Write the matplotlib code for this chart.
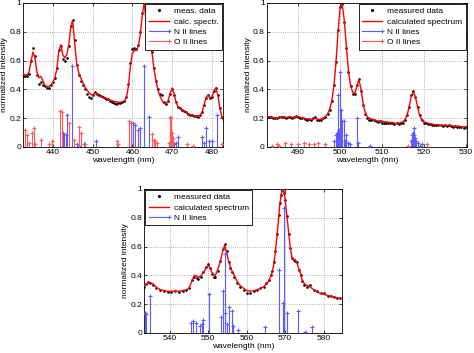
import numpy as np
import matplotlib
matplotlib.use('Agg')
import matplotlib.pyplot as plt
from matplotlib.lines import Line2D
from matplotlib.legend_handler import HandlerLine2D

plt.rcParams['font.family'] = ['Liberation Sans', 'DejaVu Sans']

# ---------------- panel 1 : 432.5 - 483 nm (0.5 nm steps) ----------------
wl1 = np.arange(432.5, 483.01, 0.5)
calc1 = [0.51, 0.50, 0.50, 0.52, 0.59, 0.66, 0.62, 0.52, 0.48, 0.49,
         0.46, 0.43, 0.42, 0.42, 0.43, 0.45, 0.48, 0.54, 0.66, 0.71,
         0.64, 0.62, 0.64, 0.71, 0.83, 0.88, 0.72, 0.58, 0.52, 0.48,
         0.45, 0.42, 0.40, 0.38, 0.365, 0.36, 0.375, 0.365, 0.355, 0.35,
         0.345, 0.34, 0.335, 0.33, 0.325, 0.32, 0.315, 0.315, 0.31, 0.31,
         0.315, 0.32, 0.34, 0.42, 0.56, 0.65, 0.67, 0.67, 0.70, 0.78,
         0.92, 1.00, 0.86, 0.80, 0.74, 0.64, 0.53, 0.45, 0.39, 0.35,
         0.32, 0.30, 0.30, 0.32, 0.37, 0.41, 0.37, 0.31, 0.28, 0.27,
         0.26, 0.25, 0.24, 0.23, 0.225, 0.22, 0.215, 0.215, 0.215, 0.22,
         0.24, 0.29, 0.34, 0.36, 0.34, 0.35, 0.39, 0.41, 0.36, 0.27,
         0.21, 0.18]
meas1 = [0.49, 0.49, 0.49, 0.51, 0.60, 0.69, 0.63, 0.50, 0.44, 0.45,
         0.43, 0.42, 0.41, 0.41, 0.43, 0.45, 0.48, 0.55, 0.67, 0.70,
         0.61, 0.60, 0.62, 0.70, 0.84, 0.88, 0.74, 0.57, 0.50, 0.46,
         0.43, 0.40, 0.37, 0.35, 0.34, 0.36, 0.385, 0.37, 0.36, 0.355,
         0.345, 0.34, 0.335, 0.33, 0.32, 0.31, 0.305, 0.30, 0.305, 0.305,
         0.31, 0.32, 0.35, 0.44, 0.58, 0.68, 0.69, 0.68, 0.71, 0.80,
         0.93, 0.99, 0.88, 0.82, 0.76, 0.66, 0.55, 0.46, 0.40, 0.37,
         0.36, 0.31, 0.30, 0.32, 0.37, 0.40, 0.36, 0.31, 0.28, 0.27,
         0.26, 0.25, 0.24, 0.23, 0.225, 0.22, 0.215, 0.215, 0.21, 0.22,
         0.24, 0.29, 0.34, 0.36, 0.34, 0.35, 0.39, 0.41, 0.36, 0.27,
         0.21, 0.18]
n2_pos1 = [442.5, 442.9, 443.2, 443.6, 444.8, 446.1, 446.5, 447.9, 450.9,
           460.2, 460.75, 461.3, 462.0, 463.0, 464.3, 470.4, 471.0, 471.6,
           477.5, 478.1, 478.5, 479.4, 480.1, 481.2]
n2_int1 = [0.10, 0.085, 0.08, 0.22, 0.565, 0.02, 0.01, 0.02, 0.04,
           0.17, 0.155, 0.12, 0.13, 0.565, 0.205, 0.02, 0.03, 0.07,
           0.07, 0.03, 0.13, 0.04, 0.04, 0.22]
o2_pos1 = [433.1, 433.5, 434.0, 434.8, 435.2, 435.5, 437.1, 439.0, 439.8,
           441.7, 442.2, 444.1, 445.4, 446.7, 447.0, 448.2, 456.1, 456.5,
           459.1, 459.7, 464.9, 465.4, 465.8, 466.2, 469.1, 469.5, 469.8,
           470.0, 470.3, 473.7, 475.2, 482.5]
o2_int1 = [0.12, 0.08, 0.03, 0.10, 0.13, 0.02, 0.05, 0.02, 0.04,
           0.25, 0.24, 0.17, 0.05, 0.14, 0.10, 0.02, 0.04, 0.02,
           0.18, 0.17, 0.09, 0.05, 0.04, 0.03, 0.03, 0.21, 0.20,
           0.10, 0.06, 0.02, 0.01, 0.02]

# ---------------- panel 2 : 482.5 - 530.5 nm ----------------
wl2 = np.arange(482.5, 530.51, 0.5)
calc2 = [0.21, 0.21, 0.205, 0.205, 0.20, 0.20, 0.205, 0.21, 0.21, 0.205,
         0.205, 0.21, 0.205, 0.205, 0.21, 0.21, 0.205, 0.20, 0.20, 0.195,
         0.195, 0.19, 0.195, 0.20, 0.195, 0.19, 0.195, 0.20, 0.21, 0.23,
         0.26, 0.32, 0.42, 0.58, 0.80, 0.96, 0.99, 0.88, 0.70, 0.53,
         0.43, 0.38, 0.37, 0.42, 0.47, 0.40, 0.30, 0.24, 0.21, 0.20,
         0.195, 0.19, 0.185, 0.18, 0.18, 0.18, 0.175, 0.175, 0.17, 0.17,
         0.17, 0.165, 0.165, 0.165, 0.17, 0.175, 0.19, 0.22, 0.28, 0.35,
         0.38, 0.35, 0.28, 0.22, 0.19, 0.175, 0.17, 0.165, 0.16, 0.16,
         0.155, 0.155, 0.155, 0.15, 0.15, 0.15, 0.15, 0.15, 0.15, 0.145,
         0.145, 0.145, 0.145, 0.14, 0.14, 0.14, 0.14]
meas2 = [0.21, 0.205, 0.205, 0.20, 0.20, 0.20, 0.21, 0.205, 0.21, 0.20,
         0.21, 0.205, 0.20, 0.21, 0.215, 0.21, 0.20, 0.20, 0.195, 0.19,
         0.195, 0.19, 0.20, 0.205, 0.19, 0.185, 0.19, 0.20, 0.21, 0.23,
         0.26, 0.32, 0.43, 0.59, 0.81, 0.97, 0.99, 0.87, 0.69, 0.52,
         0.42, 0.37, 0.37, 0.43, 0.47, 0.39, 0.29, 0.23, 0.20, 0.19,
         0.19, 0.185, 0.18, 0.175, 0.18, 0.17, 0.17, 0.17, 0.165, 0.165,
         0.17, 0.16, 0.165, 0.16, 0.165, 0.17, 0.19, 0.22, 0.28, 0.36,
         0.39, 0.35, 0.28, 0.22, 0.19, 0.17, 0.165, 0.16, 0.16, 0.155,
         0.155, 0.15, 0.155, 0.15, 0.145, 0.15, 0.145, 0.15, 0.145, 0.14,
         0.145, 0.14, 0.14, 0.14, 0.135, 0.14, 0.14]
n2_pos2 = [498.6, 498.95, 499.2, 499.6, 499.8, 500.0, 500.2, 500.5, 500.9,
           501.1, 501.5, 501.8, 502.3, 504.0, 504.3, 507.1,
           516.9, 517.2, 517.4, 517.6, 517.7, 518.0, 518.2, 518.5, 519.0, 519.6]
n2_int2 = [0.04, 0.08, 0.10, 0.36, 0.12, 0.52, 0.26, 0.18, 0.18,
           0.04, 0.08, 0.03, 0.02, 0.20, 0.03, 0.01,
           0.04, 0.08, 0.10, 0.13, 0.08, 0.06, 0.04, 0.03, 0.01, 0.02]
o2_pos2 = [483.7, 484.9, 485.3, 486.9, 488.3, 490.0, 491.4, 492.6, 493.8,
           494.8, 496.5, 516.2, 520.8]
o2_int2 = [0.01, 0.02, 0.01, 0.03, 0.02, 0.02, 0.03, 0.02, 0.02,
           0.03, 0.02, 0.01, 0.02]

# ---------------- panel 3 : 533.4 - 585 nm ----------------
wl3 = [533.4, 534.0, 534.5, 535.0, 535.8, 536.5, 537.6, 538.5, 539.5, 540.5,
       541.5, 542.5, 543.5, 544.3, 545.0, 545.8, 546.4, 547.0, 547.5, 548.2,
       548.8, 549.5, 550.1, 550.6, 551.0, 551.5, 551.9, 552.5, 553.2, 553.8,
       554.3, 554.8, 555.3, 555.8, 556.2, 556.8, 557.5, 558.3, 559.2, 560.0,
       561.0, 562.0, 562.7, 563.5, 564.4, 565.1, 565.7, 566.2, 566.6, 567.0,
       567.4, 567.9, 568.3, 568.6, 568.9, 569.2, 569.4, 569.7, 570.0, 570.4,
       570.9, 571.3, 571.8, 572.2, 572.6, 573.0, 573.5, 574.0, 574.4, 575.0,
       575.7, 576.5, 577.4, 578.3, 579.2, 580.0, 581.0, 582.0, 582.6, 583.5,
       584.3, 585.0]
calc3 = [0.33, 0.34, 0.35, 0.35, 0.34, 0.32, 0.30, 0.295, 0.29, 0.29,
         0.29, 0.29, 0.295, 0.30, 0.31, 0.36, 0.40, 0.395, 0.385, 0.40,
         0.42, 0.45, 0.47, 0.45, 0.42, 0.405, 0.40, 0.44, 0.50, 0.57,
         0.61, 0.56, 0.50, 0.46, 0.43, 0.40, 0.36, 0.33, 0.31, 0.295,
         0.29, 0.295, 0.30, 0.31, 0.32, 0.34, 0.36, 0.39, 0.42, 0.47,
         0.55, 0.68, 0.80, 0.89, 0.95, 0.99, 1.00, 0.98, 0.93, 0.82,
         0.70, 0.60, 0.52, 0.51, 0.51, 0.49, 0.45, 0.41, 0.37, 0.34,
         0.33, 0.32, 0.30, 0.285, 0.275, 0.27, 0.26, 0.255, 0.25, 0.245,
         0.24, 0.24]
meas3 = [0.32, 0.34, 0.355, 0.35, 0.33, 0.31, 0.295, 0.29, 0.285, 0.285,
         0.29, 0.285, 0.29, 0.30, 0.31, 0.37, 0.39, 0.38, 0.375, 0.39,
         0.42, 0.46, 0.48, 0.45, 0.41, 0.39, 0.39, 0.43, 0.50, 0.58,
         0.62, 0.57, 0.49, 0.45, 0.42, 0.39, 0.35, 0.32, 0.30, 0.28,
         0.28, 0.29, 0.30, 0.31, 0.32, 0.35, 0.37, 0.40, 0.43, 0.49,
         0.57, 0.69, 0.82, 0.90, 0.96, 0.99, 1.00, 0.97, 0.92, 0.81,
         0.69, 0.59, 0.52, 0.51, 0.50, 0.49, 0.44, 0.40, 0.36, 0.33,
         0.32, 0.33, 0.30, 0.29, 0.28, 0.275, 0.26, 0.255, 0.25, 0.245,
         0.24, 0.24]
n2_pos3 = [533.7, 533.9, 535.0, 545.6, 546.0, 546.9, 548.0, 548.3, 548.7,
           550.3, 553.4, 553.9, 554.3, 554.5, 554.9, 555.4, 556.3, 556.5,
           557.7, 564.8, 568.5, 569.4, 569.7, 570.5, 573.2, 575.2, 577.0]
n2_int3 = [0.14, 0.13, 0.26, 0.07, 0.08, 0.07, 0.05, 0.06, 0.09,
           0.27, 0.11, 0.29, 0.55, 0.14, 0.06, 0.18, 0.15, 0.05,
           0.02, 0.04, 0.44, 0.21, 0.87, 0.14, 0.15, 0.01, 0.04]

blue = '#5b5bff'
red = '#ff5a5a'
fs = 6


class EndMarker(HandlerLine2D):
    # put the stem marker at the right end like matlab does
    def create_artists(self, *args, **kw):
        arts = super().create_artists(*args, **kw)
        for a in arts:
            if a.get_markevery() == [1]:
                a.set_markevery([2])
        return arts


def stems(ax, pos, val, col):
    ax.vlines(pos, 0, val, color=col, lw=0.8, zorder=4)
    ax.plot(pos, val, '+', color=col, ms=3, mew=0.8, zorder=4)


def panel(rect, wl, meas, calc, xlim, xt, labels, lines, loc):
    ax = fig.add_axes(rect)
    ax.plot(wl, meas, '.', color='k', ms=1.8, zorder=2)
    ax.plot(wl, calc, '-', color='red', lw=1.0, zorder=3)
    for pos, val, col in lines:
        stems(ax, pos, val, col)
    ax.set_xlim(*xlim)
    ax.set_ylim(0, 1)
    ax.set_xticks(xt)
    ax.set_yticks([0, 0.2, 0.4, 0.6, 0.8, 1])
    ax.set_yticklabels(['0', '0.2', '0.4', '0.6', '0.8', '1'])
    ax.tick_params(direction='in', top=True, right=True, length=2.5,
                   width=0.5, labelsize=fs, pad=1.5)
    ax.grid(True, ls=':', color='0.6', lw=0.6)
    for s in ax.spines.values():
        s.set_linewidth(0.6)
    ax.set_xlabel('wavelength (nm)', fontsize=fs, labelpad=0.5)
    ax.set_ylabel('normalized intensity', fontsize=fs, labelpad=1)
    hs = [Line2D([], [], color='k', marker='.', ls='none', ms=2.5),
          Line2D([], [], color='red', lw=1.0)]
    for pos, val, col in lines:
        hs.append(Line2D([], [], color=col, lw=0.8, marker='+', ms=3, mew=0.8))
    leg = ax.legend(hs, labels, loc=loc, fontsize=fs, numpoints=1,
                    handlelength=2.4, handletextpad=0.6, borderpad=0.4,
                    labelspacing=0.3, borderaxespad=0.15, fancybox=False,
                    framealpha=1, edgecolor='k',
                    handler_map={h: EndMarker() for h in hs[2:]})
    leg.get_frame().set_linewidth(0.6)
    return ax


fig = plt.figure(figsize=(4.74, 3.53), dpi=100)

panel([0.0485, 0.5836, 0.422, 0.408], wl1, meas1, calc1, (432.5, 482.8),
      [440, 450, 460, 470, 480],
      ['meas. data', 'calc. spectr.', 'N II lines', 'O II lines'],
      [(n2_pos1, n2_int1, blue), (o2_pos1, o2_int1, red)], 'upper right')

panel([0.563, 0.5836, 0.422, 0.408], wl2, meas2, calc2, (482.5, 530.3),
      [490, 500, 510, 520, 530],
      ['measured data', 'calculated spectrum', 'N II lines', 'O II lines'],
      [(n2_pos2, n2_int2, blue), (o2_pos2, o2_int2, red)], 'upper right')

panel([0.304, 0.0567, 0.418, 0.408], wl3, meas3, calc3, (533.4, 584.8),
      [540, 550, 560, 570, 580],
      ['measured data', 'calculated spectrum', 'N II lines'],
      [(n2_pos3, n2_int3, blue)], 'upper left')

fig.savefig('out.png', dpi=100)
